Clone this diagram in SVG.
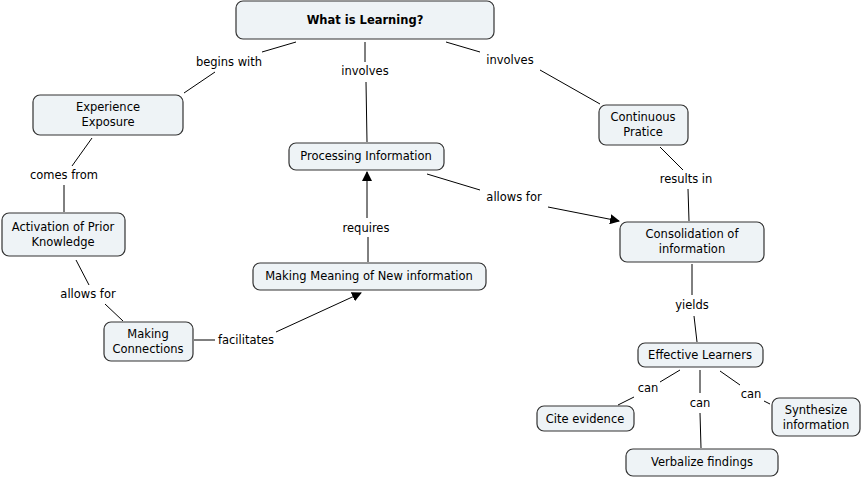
<svg xmlns="http://www.w3.org/2000/svg" width="863" height="479" viewBox="0 0 863 479">
<style>
.n rect{fill:#eef3f6;stroke:#333;stroke-width:1.2}
text{font-family:"DejaVu Sans",Verdana,sans-serif;font-size:11.5px;fill:#000;text-anchor:middle}
.c line{stroke:#000;stroke-width:1}
</style>
<defs><marker id="a" markerWidth="10" markerHeight="10" refX="9" refY="5" orient="auto" markerUnits="userSpaceOnUse"><path d="M0,0L10,5L0,10z" fill="#000"/></marker></defs>
<rect width="863" height="479" fill="#fff"/>
<g class="c">
<line x1="296" y1="42" x2="262" y2="52"/><line x1="215" y1="72" x2="184" y2="93"/>
<line x1="365" y1="42" x2="365" y2="62"/><line x1="366" y1="82" x2="367" y2="142"/>
<line x1="446" y1="42" x2="480" y2="52"/><line x1="540" y1="70" x2="600" y2="104"/>
<line x1="92" y1="138" x2="72" y2="166"/><line x1="64" y1="185" x2="64" y2="212"/>
<line x1="76" y1="260" x2="89" y2="285"/><line x1="105" y1="304" x2="123" y2="321"/>
<line x1="194" y1="340" x2="215" y2="340"/><line x1="276" y1="332" x2="361" y2="293" marker-end="url(#a)"/>
<line x1="368" y1="262" x2="368" y2="237"/><line x1="367" y1="218" x2="367" y2="172" marker-end="url(#a)"/>
<line x1="427" y1="174" x2="480" y2="190"/><line x1="548" y1="207" x2="619" y2="221" marker-end="url(#a)"/>
<line x1="660" y1="147" x2="683" y2="170"/><line x1="688" y1="189" x2="689" y2="221"/>
<line x1="692" y1="264" x2="692" y2="295"/><line x1="694" y1="316" x2="697" y2="342"/>
<line x1="680" y1="370" x2="660" y2="382"/><line x1="634" y1="397" x2="618" y2="405"/>
<line x1="700" y1="370" x2="700" y2="393"/><line x1="700" y1="413" x2="701" y2="448"/>
<line x1="720" y1="371" x2="740" y2="385"/><line x1="764" y1="401" x2="770" y2="404"/>
<text x="229" y="66">begins with</text><text x="365" y="75">involves</text><text x="510" y="64">involves</text>
<text x="64" y="179">comes from</text><text x="88" y="298">allows for</text><text x="246" y="344">facilitates</text>
<text x="366" y="232">requires</text><text x="514" y="201">allows for</text><text x="686" y="183">results in</text>
<text x="692" y="309">yields</text><text x="648" y="392">can</text><text x="700" y="407">can</text><text x="751" y="398">can</text>
</g>
<g id="n1" class="n"><rect x="236" y="1" width="258" height="38" rx="7"/><text x="365" y="24" font-weight="bold">What is Learning?</text></g>
<g id="n2" class="n"><rect x="33" y="95" width="150" height="40" rx="7"/><text x="108" y="111">Experience</text><text x="108" y="126">Exposure</text></g>
<g id="n3" class="n"><rect x="289" y="143" width="155" height="27" rx="7"/><text x="366" y="160">Processing Information</text></g>
<g id="n4" class="n"><rect x="599" y="105" width="89" height="40" rx="7"/><text x="643" y="121">Continuous</text><text x="643" y="136">Pratice</text></g>
<g id="n5" class="n"><rect x="2" y="213" width="123" height="43" rx="7"/><text x="63" y="231">Activation of Prior</text><text x="63" y="246">Knowledge</text></g>
<g id="n6" class="n"><rect x="620" y="222" width="144" height="40" rx="7"/><text x="692" y="238">Consolidation of</text><text x="692" y="253">information</text></g>
<g id="n7" class="n"><rect x="253" y="263" width="233" height="27" rx="7"/><text x="369" y="280">Making Meaning of New information</text></g>
<g id="n8" class="n"><rect x="104" y="322" width="89" height="39" rx="7"/><text x="148" y="338">Making</text><text x="148" y="353">Connections</text></g>
<g id="n9" class="n"><rect x="638" y="343" width="125" height="24" rx="7"/><text x="700" y="359">Effective Learners</text></g>
<g id="n10" class="n"><rect x="537" y="406" width="97" height="25" rx="7"/><text x="585" y="423">Cite evidence</text></g>
<g id="n11" class="n"><rect x="772" y="398" width="88" height="38" rx="7"/><text x="816" y="414">Synthesize</text><text x="816" y="429">information</text></g>
<g id="n12" class="n"><rect x="626" y="449" width="152" height="27" rx="7"/><text x="702" y="466">Verbalize findings</text></g>
</svg>
